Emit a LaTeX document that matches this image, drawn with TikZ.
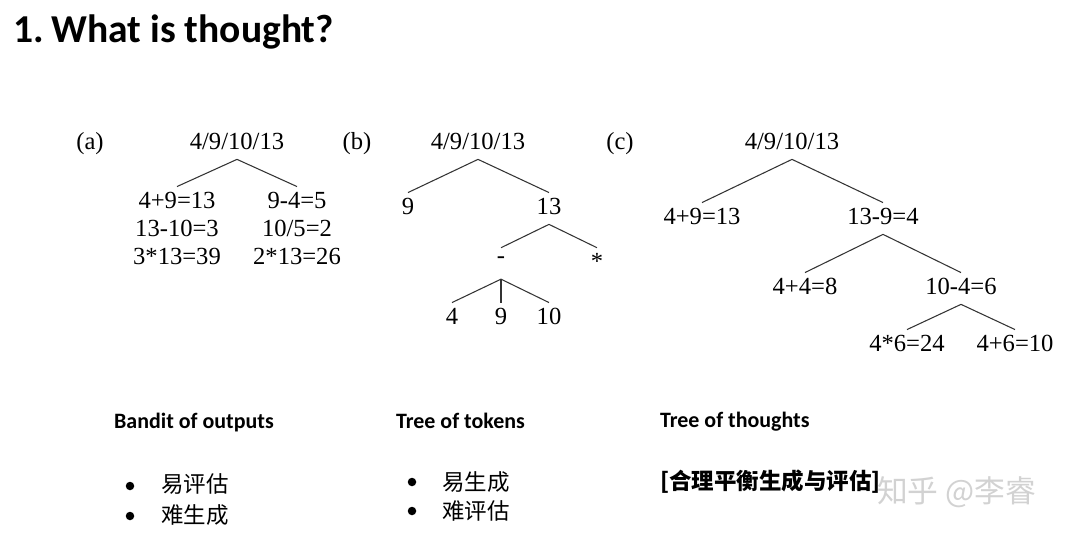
\documentclass[tikz,border=0pt]{standalone}
\usepackage{fontspec}
\setmainfont{Liberation Serif}
\newfontfamily\headfont{Carlito}
\newfontfamily\cjk{Noto Sans CJK SC}
\newcommand\numfont{\fontsize{14}{16}\selectfont}

\begin{document}
\begin{tikzpicture}[x=0.02cm, y=-0.02cm]
				\tikzstyle{every node}=[inner sep=1pt, anchor=base]
				\tikzstyle{edge}=[line width=0.6pt, draw=black!80]
				\tikzstyle{num}=[font=\numfont, text height=11pt, text depth=4.7pt]
				\tikzstyle{op}=[font=\numfont, text height=7.5pt, text depth=8pt]
				\tikzstyle{head}=[anchor=base west, font=\headfont\bfseries\fontsize{12.5}{15}\selectfont]
				\tikzstyle{zh}=[anchor=base west, font=\cjk\fontsize{12.8}{15}\selectfont]
				\tikzstyle{dot}=[anchor=center, circle, fill=black, inner sep=0pt, minimum size=0.17cm]
				\fill[white] (0,0) rectangle (1069,534);
				\useasboundingbox (0,0) rectangle (1069,534);
				\node[anchor=base west, font=\headfont\bfseries\fontsize{22.5}{26}\selectfont] (T) at (11, 42) {1.\hspace{4.5pt}What is thought?};
				% (a)
				\node[num] (La) at (90, 149) {(a)};
				\node[num] (A) at (237, 149) {4/9/10/13};
				\node[num] (A1) at (177, 208) {4+9=13};
				\node[num] (A1b) at (177, 236) {13-10=3};
				\node[num] (A1c) at (177, 264) {3*13=39};
				\node[num] (A2) at (297, 208) {9-4=5};
				\node[num] (A2b) at (297, 236) {10/5=2};
				\node[num] (A2c) at (297, 264) {2*13=26};
				\draw[edge] (A.south) -- (A1.north);
				\draw[edge] (A.south) -- (A2.north);
				% (b)
				\node[num] (Lb) at (357, 149) {(b)};
				\node[num] (B) at (478, 149) {4/9/10/13};
				\node[num] (B1) at (408, 214) {9};
				\node[num] (B2) at (549, 214) {13};
				\node[op] (B21) at (501, 263) {-};
				\node[op] (B22) at (597, 263) {\raisebox{-0.25em}{*}};
				\node[num] (B211) at (452, 324) {4};
				\node[num] (B212) at (501, 324) {9};
				\node[num] (B213) at (549, 324) {10};
				\draw[edge] (B.south) -- (B1.north);
				\draw[edge] (B.south) -- (B2.north);
				\draw[edge] (B2.south) -- (B21.north);
				\draw[edge] (B2.south) -- (B22.north);
				\draw[edge] (B21.south) -- (B211.north);
				\draw[edge] (B21.south) -- (B212.north);
				\draw[edge] (B21.south) -- (B213.north);
				% (c)
				\node[num] (Lc) at (620, 149) {(c)};
				\node[num] (C) at (792, 149) {4/9/10/13};
				\node[num] (C1) at (702, 224) {4+9=13};
				\node[num] (C2) at (883, 224) {13-9=4};
				\node[num] (C21) at (805, 294) {4+4=8};
				\node[num] (C22) at (961, 294) {10-4=6};
				\node[num] (C221) at (907, 351) {4*6=24};
				\node[num] (C222) at (1015, 351) {4+6=10};
				\draw[edge] (C.south) -- (C1.north);
				\draw[edge] (C.south) -- (C2.north);
				\draw[edge] (C2.south) -- (C21.north);
				\draw[edge] (C2.south) -- (C22.north);
				\draw[edge] (C22.south) -- (C221.north);
				\draw[edge] (C22.south) -- (C222.north);
				% captions
				\node[head] (Ha) at (112, 428) {Bandit of outputs};
				\node[head] (Hb) at (394, 428) {Tree of tokens};
				\node[head] (Hc) at (658, 427) {Tree of thoughts};
				\node[dot] (Da1) at (130, 486) {};
				\node[dot] (Da2) at (130, 516) {};
				\node[zh] (Za1) at (159, 492) {易评估};
				\node[zh] (Za2) at (159, 523) {难生成};
				\node[dot] (Db1) at (412, 482) {};
				\node[dot] (Db2) at (412, 511) {};
				\node[zh] (Zb1) at (440, 490) {易生成};
				\node[zh] (Zb2) at (440, 519) {难评估};
				\node[zh, font=\cjk\bfseries\fontsize{12.8}{15}\selectfont] (Zc) at (658, 489) {[合理平衡生成与评估]};
				\node[anchor=base west, text=gray!35, font=\cjk\fontsize{17.5}{20}\selectfont] (W) at (875, 502) {知乎 @李睿};
		\end{tikzpicture}
\end{document}
